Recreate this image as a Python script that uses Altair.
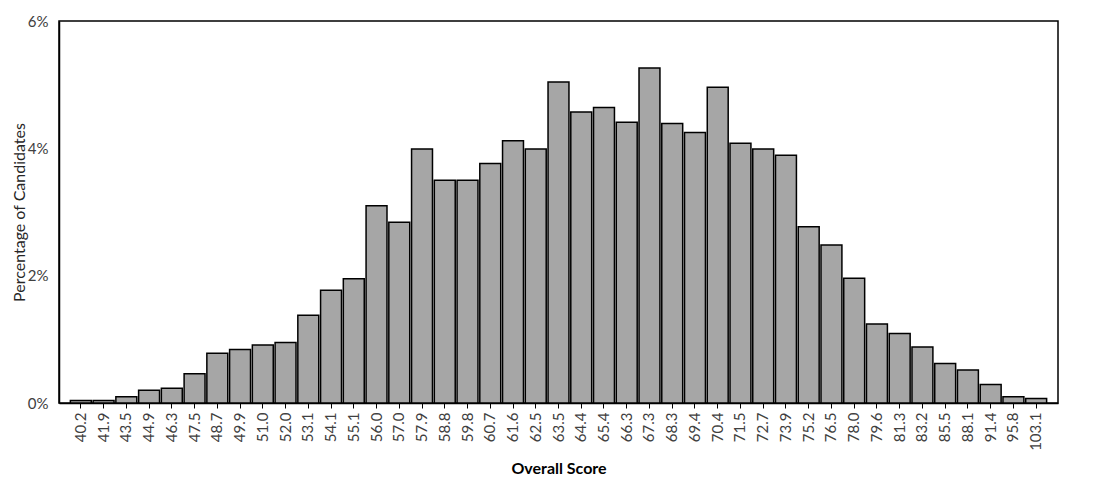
import altair as alt
import pandas as pd

scores = ["40.2", "41.9", "43.5", "44.9", "46.3", "47.5", "48.7", "49.9", "51.0", "52.0",
          "53.1", "54.1", "55.1", "56.0", "57.0", "57.9", "58.8", "59.8", "60.7", "61.6",
          "62.5", "63.5", "64.4", "65.4", "66.3", "67.3", "68.3", "69.4", "70.4", "71.5",
          "72.7", "73.9", "75.2", "76.5", "78.0", "79.6", "81.3", "83.2", "85.5", "88.1",
          "91.4", "95.8", "103.1"]
percent = [0.04, 0.04, 0.10, 0.20, 0.23, 0.46, 0.78, 0.84, 0.91, 0.95,
           1.38, 1.77, 1.95, 3.10, 2.84, 3.99, 3.50, 3.50, 3.76, 4.12,
           3.99, 5.04, 4.57, 4.64, 4.41, 5.26, 4.39, 4.25, 4.96, 4.08,
           3.99, 3.89, 2.77, 2.48, 1.96, 1.24, 1.09, 0.88, 0.62, 0.52,
           0.29, 0.10, 0.07]

df = pd.DataFrame({"score": scores, "pct": percent})

FONT = "Lato"

chart = alt.Chart(df).mark_bar(
    fill="#a6a6a6", stroke="#000000", strokeWidth=1.5
).encode(
    x=alt.X("score:N", sort=scores,
            scale=alt.Scale(paddingInner=0.08, paddingOuter=0.5),
            axis=alt.Axis(title="Overall Score", labelAngle=-90, tickSize=5,
                          labelPadding=4, titlePadding=10, domainColor="#000000",
                          tickColor="#000000", domainWidth=1.5, labelFontSize=15,
                          titleFontSize=16)),
    y=alt.Y("pct:Q", scale=alt.Scale(domain=[0, 6], nice=False),
            axis=alt.Axis(title="Percentage of Candidates", values=[0, 2, 4, 6],
                          labelExpr="datum.value + '%'", ticks=False, grid=False,
                          labelPadding=11, titlePadding=0, domainColor="#000000",
                          domainWidth=1.5, labelFontSize=15, titleFontSize=16)),
).properties(
    width=999, height=382,
    autosize=alt.AutoSizeParams(type="none"),
    padding={"left": 51, "top": 13, "right": 30, "bottom": 76},
).configure_view(
    stroke="#000000", strokeWidth=1.5
).configure_axis(
    labelFont=FONT, titleFont=FONT,
    labelColor="#404040", titleColor="#262626"
).configure_axisY(
    titleFontWeight="normal"
).configure_axisX(
    titleFontWeight="bold", titleColor="#000000"
)

chart.save("out.html", embed_options={"renderer": "svg", "actions": False})
